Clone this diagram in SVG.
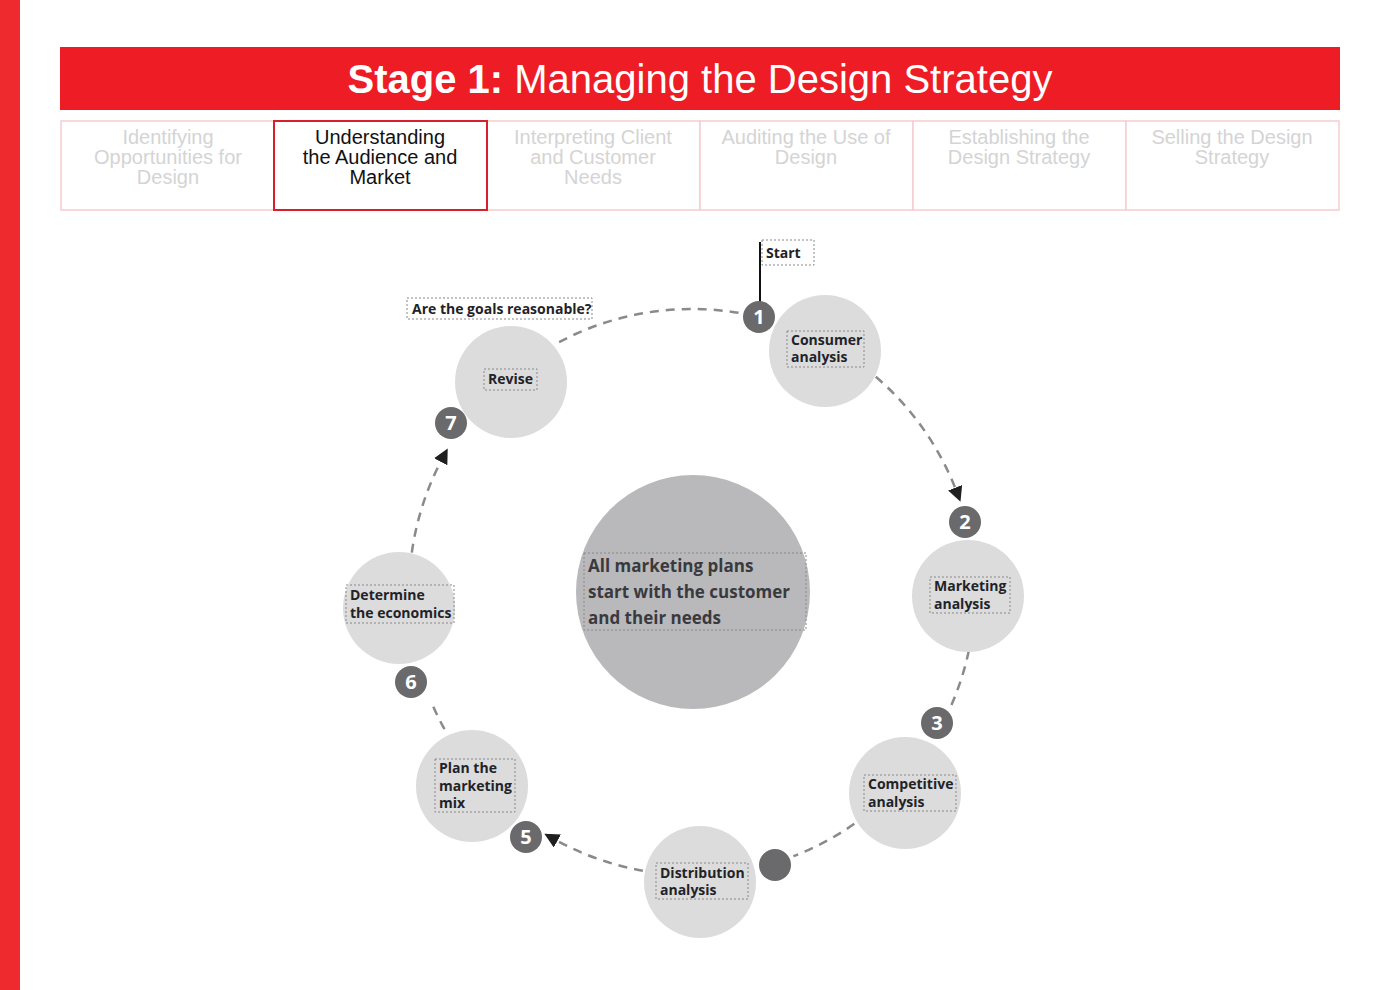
<svg xmlns="http://www.w3.org/2000/svg" width="1400" height="990" viewBox="0 0 1400 990">
<defs>
<style>
.tab{fill:#fff;stroke:#f6cdd0;stroke-width:1.5}
.tt{font-family:"Liberation Sans",Arial,sans-serif;font-size:20px;fill:#d4d4d4;text-anchor:middle}
.node{fill:#dcdcdd}
.lbl{font-family:"Open Sans","DejaVu Sans",sans-serif;font-weight:700;font-size:14px;fill:#1f2328}
.box{fill:none;stroke:#888;stroke-width:1;stroke-dasharray:2 2}
.badge{fill:#6a6a6c}
.bt{font-family:"Open Sans","DejaVu Sans",sans-serif;font-weight:700;font-size:20px;fill:#fff;text-anchor:middle}
.arc{fill:none;stroke:#8a8a8c;stroke-width:2.5;stroke-dasharray:9 7}
</style>
<marker id="ah" viewBox="0 0 10 10" refX="2" refY="5" markerWidth="6" markerHeight="6" orient="auto" markerUnits="strokeWidth"><path d="M0,0 L10,5 L0,10 z" fill="#1f1f1f"/></marker>
</defs>
<rect width="1400" height="990" fill="#fff"/>
<rect x="0" y="0" width="20" height="990" fill="#ee2a2e"/>
<g id="header">
<rect x="60" y="47" width="1280" height="63" fill="#ee1c25"/>
<text x="700" y="93" text-anchor="middle" font-family="Liberation Sans,Arial,sans-serif" font-size="40" fill="#fff"><tspan font-weight="700">Stage 1:</tspan> Managing the Design Strategy</text>
</g>
<g id="tabs">
<rect class="tab" x="61" y="121" width="213" height="89"/>
<text class="tt"><tspan x="168" y="144">Identifying</tspan><tspan x="168" y="164">Opportunities for</tspan><tspan x="168" y="184">Design</tspan></text>
<rect class="tab" x="487" y="121" width="213" height="89"/>
<text class="tt"><tspan x="593" y="144">Interpreting Client</tspan><tspan x="593" y="164">and Customer</tspan><tspan x="593" y="184">Needs</tspan></text>
<rect class="tab" x="700" y="121" width="213" height="89"/>
<text class="tt"><tspan x="806" y="144">Auditing the Use of</tspan><tspan x="806" y="164">Design</tspan></text>
<rect class="tab" x="913" y="121" width="213" height="89"/>
<text class="tt"><tspan x="1019" y="144">Establishing the</tspan><tspan x="1019" y="164">Design Strategy</tspan></text>
<rect class="tab" x="1126" y="121" width="213" height="89"/>
<text class="tt"><tspan x="1232" y="144">Selling the Design</tspan><tspan x="1232" y="164">Strategy</tspan></text>
<rect x="274" y="121" width="213" height="89" fill="#fff" stroke="#d8202a" stroke-width="2"/>
<text class="tt" style="fill:#111"><tspan x="380" y="144">Understanding</tspan><tspan x="380" y="164">the Audience and</tspan><tspan x="380" y="184">Market</tspan></text>
</g>
<g id="connectors">
<path class="arc" d="M559.1,342.1 A283,283 0 0 1 746,314.2"/>
<path class="arc" d="M875.8,376.8 A283,283 0 0 1 956.2,490.6" marker-end="url(#ah)"/>
<path class="arc" d="M968.8,650.8 A283,283 0 0 1 950.5,707.1"/>
<path class="arc" d="M854.3,823.8 A283,283 0 0 1 793.4,856.2"/>
<path class="arc" d="M642.9,870.7 A283,283 0 0 1 554.8,839.5" marker-end="url(#ah)"/>
<path class="arc" d="M444.5,729.2 A283,283 0 0 1 431.5,702.6"/>
<path class="arc" d="M411.8,552.6 A283,283 0 0 1 442.1,459.1" marker-end="url(#ah)"/>
<line x1="760" y1="242" x2="760" y2="305" stroke="#111" stroke-width="2"/>
</g>
<g id="center">
<circle cx="693" cy="592" r="117" fill="#b9b9bb"/>
<rect class="box" x="584" y="553" width="222" height="77"/>
<text font-family="Open Sans,DejaVu Sans,sans-serif" font-weight="700" font-size="17" fill="#3a3a3e"><tspan x="588" y="572">All marketing plans</tspan><tspan x="588" y="598">start with the customer</tspan><tspan x="588" y="624">and their needs</tspan></text>
</g>
<g id="start"><rect class="box" x="762" y="240" width="52" height="25"/><text class="lbl" x="766" y="258" font-size="17">Start</text></g>
<g id="question"><rect class="box" x="407" y="298" width="185" height="21"/><text class="lbl" x="412" y="314">Are the goals reasonable?</text></g>
<g id="n1"><circle class="node" cx="825" cy="351" r="56"/><rect class="box" x="787" y="331" width="77" height="36"/><text class="lbl"><tspan x="791" y="345">Consumer</tspan><tspan x="791" y="362">analysis</tspan></text></g>
<g id="n2"><circle class="node" cx="968" cy="596" r="56"/><rect class="box" x="930" y="577" width="80" height="36"/><text class="lbl"><tspan x="934" y="591">Marketing</tspan><tspan x="934" y="609">analysis</tspan></text></g>
<g id="n3"><circle class="node" cx="905" cy="793" r="56"/><rect class="box" x="864" y="775" width="92" height="36"/><text class="lbl"><tspan x="868" y="789">Competitive</tspan><tspan x="868" y="807">analysis</tspan></text></g>
<g id="n4"><circle class="node" cx="700" cy="882" r="56"/><rect class="box" x="656" y="863" width="92" height="36"/><text class="lbl"><tspan x="660" y="878">Distribution</tspan><tspan x="660" y="895">analysis</tspan></text></g>
<g id="n5"><circle class="node" cx="472" cy="786" r="56"/><rect class="box" x="435" y="759" width="80" height="53"/><text class="lbl"><tspan x="439" y="773">Plan the</tspan><tspan x="439" y="791">marketing</tspan><tspan x="439" y="808">mix</tspan></text></g>
<g id="n6"><circle class="node" cx="399" cy="608" r="56"/><rect class="box" x="346" y="585" width="108" height="38"/><text class="lbl"><tspan x="350" y="600">Determine</tspan><tspan x="350" y="618">the economics</tspan></text></g>
<g id="n7"><circle class="node" cx="511" cy="382" r="56"/><rect class="box" x="484" y="369" width="53" height="21"/><text class="lbl" x="488" y="384">Revise</text></g>
<g id="badges">
<circle class="badge" cx="759" cy="317" r="16"/><text class="bt" x="759" y="324">1</text>
<circle class="badge" cx="965" cy="522" r="16"/><text class="bt" x="965" y="529">2</text>
<circle class="badge" cx="937" cy="723" r="16"/><text class="bt" x="937" y="730">3</text>
<circle class="badge" cx="775" cy="865" r="16"/>
<circle class="badge" cx="526" cy="837" r="16"/><text class="bt" x="526" y="844">5</text>
<circle class="badge" cx="411" cy="682" r="16"/><text class="bt" x="411" y="689">6</text>
<circle class="badge" cx="451" cy="423" r="16"/><text class="bt" x="451" y="430">7</text>
</g>
</svg>
